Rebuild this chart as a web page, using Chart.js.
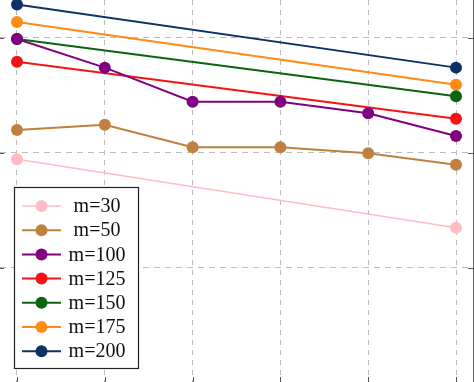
<!DOCTYPE html>
<html>
<head>
<meta charset="utf-8">
<script src="https://cdn.jsdelivr.net/npm/chart.js@4.4.1/dist/chart.umd.min.js"></script>
<style>
    html, body { margin: 0; padding: 0; background: #fff; }
    #wrap { width: 474px; height: 382px; }
</style>
</head>
<body>
<div id="wrap"><canvas id="chart"></canvas></div>
<script>
const xValues = [0, 1, 2, 3, 4, 5];
const yTicks = [1, 2, 3];

const seriesLabels = ['m=30', 'm=50', 'm=100', 'm=125', 'm=150', 'm=175', 'm=200'];
const m30 = [1.945, null, null, null, null, 1.350];
const m50 = [2.200, 2.246, 2.050, 2.050, 1.997, 1.898];
const m100 = [2.991, 2.742, 2.446, 2.446, 2.345, 2.148];
const m125 = [2.794, null, null, null, null, 2.298];
const m150 = [2.991, null, null, null, null, 2.493];
const m175 = [3.139, null, null, null, null, 2.594];
const m200 = [3.290, null, null, null, null, 2.742];

const seriesColors = ['#ffbcc2', '#bf8040', '#800080', '#f51414', '#0b6410', '#ff8a14', '#0d3366'];
const seriesData = [m30, m50, m100, m125, m150, m175, m200];

const gridColor = '#bcbcbc';

// pgfplots style frame: ticks drawn inward, right border line, legend box
const framePlugin = {
    id: 'frame',
    afterDatasetsDraw(chart) {
        const { ctx, chartArea: a, scales } = chart;
        ctx.save();
        ctx.strokeStyle = '#555';
        ctx.lineWidth = 1;
        ctx.beginPath();
        scales.x.ticks.forEach(t => {
            const px = Math.round(scales.x.getPixelForValue(t.value)) + 0.5;
            ctx.moveTo(px, a.bottom);
            ctx.lineTo(px, a.bottom - 5);
        });
        scales.y.ticks.forEach(t => {
            const py = Math.round(scales.y.getPixelForValue(t.value)) + 0.5;
            ctx.moveTo(a.left, py);
            ctx.lineTo(a.left + 4, py);
            ctx.moveTo(a.right, py);
            ctx.lineTo(a.right - 5, py);
        });
        ctx.stroke();
        ctx.strokeStyle = '#666';
        ctx.beginPath();
        ctx.moveTo(a.right + 0.5, a.top);
        ctx.lineTo(a.right + 0.5, a.bottom);
        ctx.stroke();

        // legend
        const box = { x: 14.5, y: 187.5, w: 124, h: 181 };
        ctx.fillStyle = '#fff';
        ctx.fillRect(box.x, box.y, box.w, box.h);
        ctx.strokeStyle = '#222';
        ctx.lineWidth = 1.2;
        ctx.strokeRect(box.x, box.y, box.w, box.h);
        ctx.font = '20px "Liberation Serif", serif';
        ctx.textAlign = 'center';
        ctx.textBaseline = 'middle';
        chart.data.datasets.forEach((ds, i) => {
            const cy = 206 + i * 24.2;
            ctx.strokeStyle = ds.borderColor;
            ctx.lineWidth = ds.borderWidth;
            ctx.beginPath();
            ctx.moveTo(22, cy);
            ctx.lineTo(61, cy);
            ctx.stroke();
            ctx.fillStyle = ds.pointBackgroundColor;
            ctx.beginPath();
            ctx.arc(41.5, cy, 6, 0, Math.PI * 2);
            ctx.fill();
            ctx.fillStyle = '#111';
            ctx.fillText(ds.label, 97, cy + 1);
        });
        ctx.restore();
    }
};

new Chart(document.getElementById('chart'), {
    type: 'line',
    data: {
        labels: xValues,
        datasets: seriesData.map((data, i) => ({
            label: seriesLabels[i],
            data,
            borderColor: seriesColors[i],
            backgroundColor: seriesColors[i],
            pointBackgroundColor: seriesColors[i],
            pointBorderColor: seriesColors[i],
            pointRadius: 6,
            pointBorderWidth: 0,
            borderWidth: i === 0 ? 1.4 : 2,
            spanGaps: true,
            tension: 0,
        })),
    },
    options: {
        responsive: true,
        maintainAspectRatio: false,
        animation: false,
        layout: { autoPadding: false, padding: { left: 0, right: 1, top: 0, bottom: 0 } },
        plugins: {
            legend: { display: false },
            tooltip: { enabled: false },
        },
        scales: {
            x: {
                type: 'linear',
                min: -0.1936,
                max: 5.1936,
                afterBuildTicks: axis => { axis.ticks = xValues.map(v => ({ value: v })); },
                ticks: { display: false },
                grid: { color: gridColor, lineWidth: 1, drawTicks: false },
                border: { display: false, dash: [5, 5] },
            },
            y: {
                min: 0.0087,
                max: 3.330,
                afterBuildTicks: axis => { axis.ticks = yTicks.map(v => ({ value: v })); },
                ticks: { display: false },
                grid: { color: gridColor, lineWidth: 1, drawTicks: false },
                border: { display: false, dash: [6, 5] },
            },
        },
    },
    plugins: [framePlugin],
});
</script>
</body>
</html>
